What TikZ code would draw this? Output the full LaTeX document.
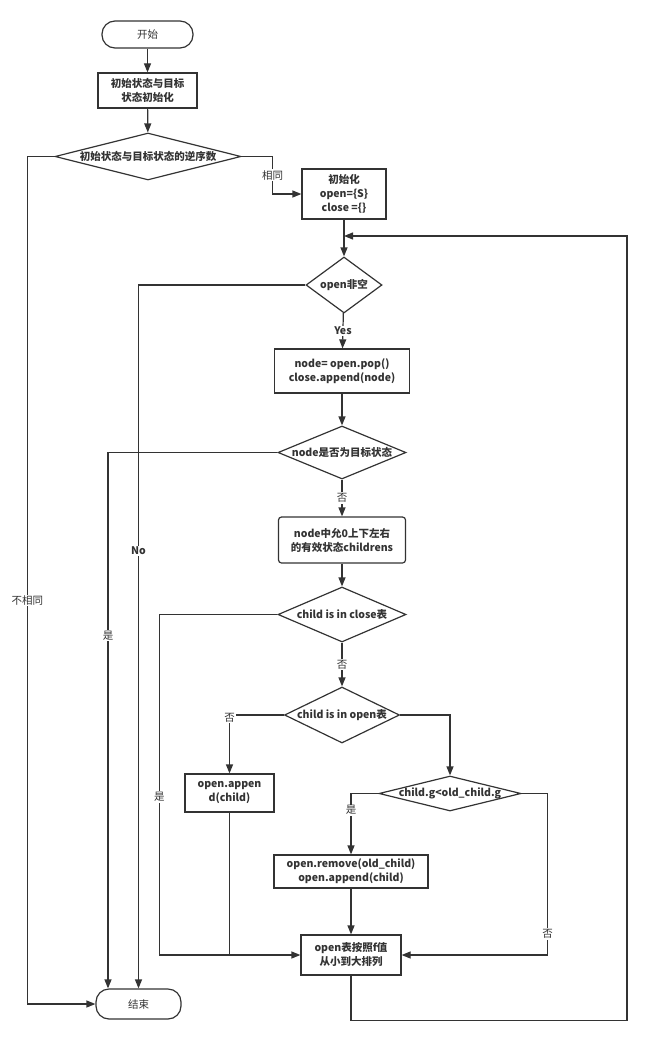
\documentclass[tikz,border=0pt]{standalone}
\usepackage{fontspec}
\setmainfont{Noto Sans CJK SC}
\usetikzlibrary{shapes.geometric,arrows.meta}

\begin{document}
\begin{tikzpicture}[x=1pt,y=-1pt,
      garis/.style={draw=black!80,line width=1.2pt},
      kotak/.style={garis,align=center,inner sep=2pt,text=black!80,
        font=\fontsize{10.5}{14}\selectfont\bfseries},
      ujung/.style={kotak,rounded corners=13pt,font=\fontsize{10.5}{14}\selectfont},
      jajar/.style={kotak,shape=diamond,inner sep=0pt},
      ket/.style={fill=white,inner sep=1pt,text=black!80,
        font=\fontsize{10.5}{12}\selectfont},
      pn/.style={garis,-{Triangle[length=9pt,width=7pt]}}]

    \useasboundingbox (0,0) rectangle (648,1041);

    % Kolom awal
    \node[ujung,minimum width=91pt,minimum height=27pt] (mulai) at (147.5,34.5) {开始};
    \node[kotak,minimum width=99pt,minimum height=35pt] (inisial) at (147.5,90.5)
      {初始状态与目标\\状态初始化};
    \node[jajar,minimum width=186pt,minimum height=47pt] (cekbalik) at (148,156.5)
      {\makebox[0pt]{初始状态与目标状态的逆序数}};
    \node[kotak,minimum width=84pt,minimum height=50pt] (awal) at (344,194)
      {初始化\\open=\{S\}\\close =\{\}};

    % Kolom utama
    \coordinate (gabung) at (344,236);
    \coordinate (kanan) at (627,236);
    \node[jajar,minimum width=76pt,minimum height=56pt] (takkosong) at (344,285)
      {\makebox[0pt]{open非空}};
    \node[kotak,minimum width=135pt,minimum height=44pt] (ambil) at (342,371)
      {node= open.pop()\\close.append(node)};
    \node[jajar,minimum width=128pt,minimum height=53pt] (target) at (342,452.5)
      {\makebox[0pt]{node是否为目标状态}};
    \node[kotak,rounded corners=3pt,minimum width=127pt,minimum height=46pt] (anak) at (342,540)
      {node中允0上下左右\\的有效状态childrens};
    \node[jajar,minimum width=128pt,minimum height=55pt] (diclose) at (342,614.5)
      {\makebox[0pt]{child is in close表}};
    \node[jajar,minimum width=115pt,minimum height=56pt] (diopen) at (342,715)
      {\makebox[0pt]{child is in open表}};

    % Cabang bawah
    \node[kotak,minimum width=89pt,minimum height=38pt] (tambah) at (229.5,793)
      {open.appen\\d(child)};
    \node[jajar,minimum width=142pt,minimum height=35pt] (bandingg) at (450,793.5)
      {\makebox[0pt]{child.g<old\_child.g}};
    \node[kotak,minimum width=154pt,minimum height=33pt] (ganti) at (351,871.5)
      {open.remove(old\_child)\\open.append(child)};
    \node[kotak,minimum width=100pt,minimum height=40pt] (urut) at (351,955)
      {open表按照f值\\从小到大排列};

    \node[ujung,minimum width=85pt,minimum height=30pt] (selesai) at (138.5,1004) {结束};

    % Panah kolom awal
    \draw[pn] (mulai) -- (inisial);
    \draw[pn] (inisial) -- (cekbalik);
    \draw[pn] (cekbalik.east) -- ++(31,0) -- node[ket]{相同} ++(0,37.5) -- (awal.west);
    \draw[pn] (cekbalik.west) -- ++(-27,0) |- node[ket,pos=0.262]{不相同} (selesai.west);

    % Panah kolom utama
    \draw[pn] (awal) -- (takkosong);
    \draw[pn] (takkosong) -- node[ket,font=\fontsize{10.5}{12}\selectfont\bfseries]{Yes} (ambil);
    \draw[pn] (takkosong.west) -| node[ket,pos=0.689,font=\fontsize{10.5}{12}\selectfont\bfseries]{No} (selesai.north);
    \draw[pn] (ambil) -- (target);
    \draw[pn] (target) -- node[ket]{否} (anak);
    \draw[pn] (target.west) -| node[ket,pos=0.671]{是} ([xshift=-30.5pt]selesai.north);
    \draw[pn] (anak) -- (diclose);
    \draw[pn] (diclose) -- node[ket]{否} (diopen);
    \draw[pn] (diclose.west) -- ++(-118,0) |- node[ket,pos=0.268]{是} (urut.west);

    % Panah cabang bawah
    \draw[pn] (diopen.west) -| node[ket,pos=0.52]{否} (tambah.north);
    \draw[pn] (diopen.east) -| (bandingg.north);
    \draw[pn] (bandingg.west) -| node[ket,pos=0.637]{是} (ganti.north);
    \draw[pn] (bandingg.east) -- ++(26,0) |- node[ket,pos=0.435]{否} (urut.east);
    \draw[pn] (ganti) -- (urut);
    \draw[garis] (tambah.south) -- (tambah.south |- urut.west);

    % Kembali ke atas
    \draw[pn] (urut.south) -- ++(0,45) -| (kanan) -- (gabung);
  \end{tikzpicture}
\end{document}
